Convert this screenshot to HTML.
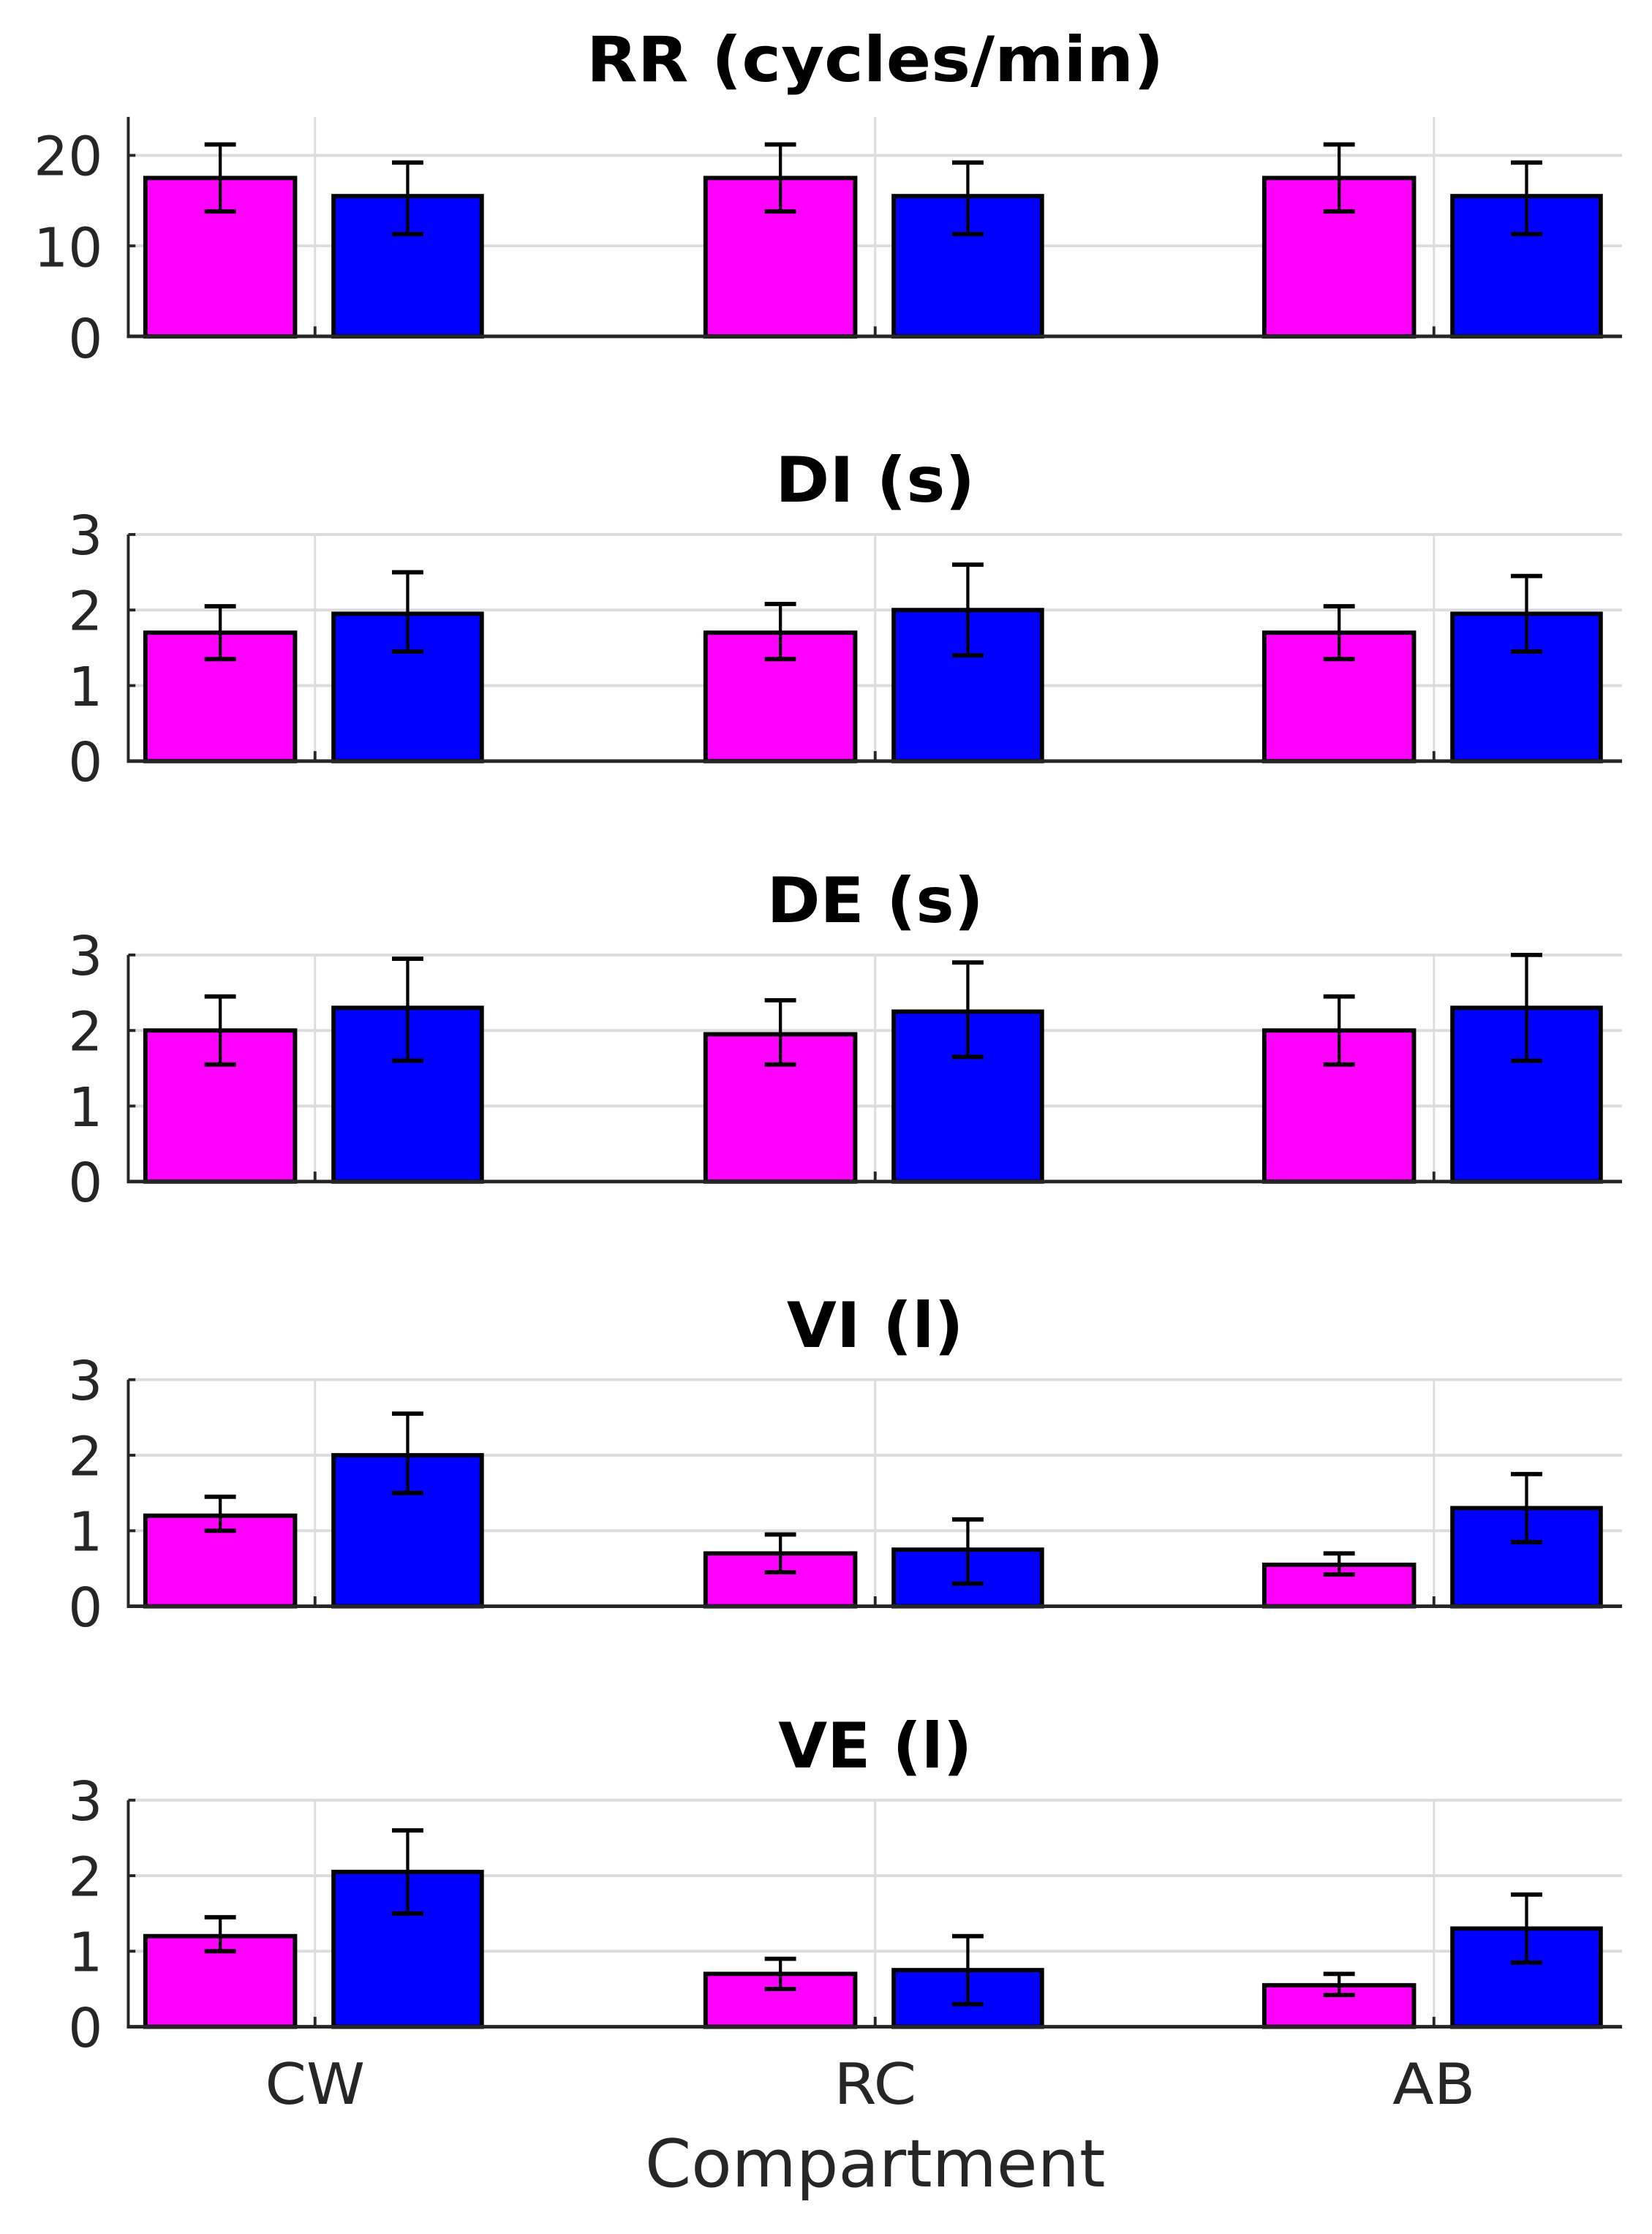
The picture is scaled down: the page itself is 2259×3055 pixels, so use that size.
<!DOCTYPE html>
<html><head><meta charset="utf-8"><style>
html,body{margin:0;padding:0;background:#fff;}
svg{display:block;}
text{font-family:"DejaVu Sans","Liberation Sans",sans-serif;fill:#262626;}
.t{font-weight:bold;font-size:44px;fill:#000;}
.y{font-size:38px;text-anchor:end;}
.x{font-size:40px;text-anchor:middle;}
</style></head><body>
<svg id="s" width="2259" height="3055" viewBox="0 0 1159 1567.4" xmlns="http://www.w3.org/2000/svg">
<rect width="1159" height="1568" fill="#fff"/>
<g id="g"></g>
<text class="t" x="614" y="57" text-anchor="middle" textLength="405" lengthAdjust="spacingAndGlyphs">RR (cycles/min)</text>
<text class="t" x="614" y="352" text-anchor="middle" textLength="140" lengthAdjust="spacingAndGlyphs">DI (s)</text>
<text class="t" x="614" y="647" text-anchor="middle" textLength="152" lengthAdjust="spacingAndGlyphs">DE (s)</text>
<text class="t" x="614" y="945" text-anchor="middle" textLength="124" lengthAdjust="spacingAndGlyphs">VI (l)</text>
<text class="t" x="614" y="1240" text-anchor="middle" textLength="136" lengthAdjust="spacingAndGlyphs">VE (l)</text>
<text class="y" x="72" y="123">20</text><text class="y" x="72" y="187">10</text><text class="y" x="72" y="251">0</text>
<text class="y" x="72" y="389">3</text><text class="y" x="72" y="442">2</text><text class="y" x="72" y="495">1</text><text class="y" x="72" y="548">0</text>
<text class="y" x="72" y="684">3</text><text class="y" x="72" y="737">2</text><text class="y" x="72" y="790">1</text><text class="y" x="72" y="843">0</text>
<text class="y" x="72" y="982">3</text><text class="y" x="72" y="1035">2</text><text class="y" x="72" y="1088">1</text><text class="y" x="72" y="1141">0</text>
<text class="y" x="72" y="1277">3</text><text class="y" x="72" y="1330">2</text><text class="y" x="72" y="1383">1</text><text class="y" x="72" y="1436">0</text>
<text class="x" x="221" y="1476" textLength="70" lengthAdjust="spacingAndGlyphs">CW</text><text class="x" x="614" y="1476" textLength="58" lengthAdjust="spacingAndGlyphs">RC</text><text class="x" x="1006" y="1476" textLength="58" lengthAdjust="spacingAndGlyphs">AB</text>
<text class="x" x="614" y="1534" style="font-size:46px" textLength="323" lengthAdjust="spacingAndGlyphs">Compartment</text>
</svg>
<script>
var P=[
 {top:82,bot:236,u:6.35,ticks:[10,20],d:[[17.5,21.2,13.8,15.5,19.2,11.3],[17.5,21.2,13.8,15.5,19.2,11.3],[17.5,21.2,13.8,15.5,19.2,11.3]]},
 {top:375,bot:534,u:53,ticks:[1,2,3],d:[[1.7,2.05,1.35,1.95,2.5,1.45],[1.7,2.08,1.35,2.0,2.6,1.4],[1.7,2.05,1.35,1.95,2.45,1.45]]},
 {top:670,bot:829,u:53,ticks:[1,2,3],d:[[2.0,2.45,1.55,2.3,2.95,1.6],[1.95,2.4,1.55,2.25,2.9,1.65],[2.0,2.45,1.55,2.3,3.0,1.6]]},
 {top:968,bot:1127,u:53,ticks:[1,2,3],d:[[1.2,1.45,1.0,2.0,2.55,1.5],[0.7,0.95,0.45,0.75,1.15,0.3],[0.55,0.7,0.42,1.3,1.75,0.85]]},
 {top:1263,bot:1422,u:53,ticks:[1,2,3],d:[[1.2,1.45,1.0,2.05,2.6,1.5],[0.7,0.9,0.5,0.75,1.2,0.3],[0.55,0.7,0.42,1.3,1.75,0.85]]}
];
var C=[221,614,1006],h='';
P.forEach(function(p){
 var Y=function(v){return p.bot-v*p.u;};
 p.ticks.forEach(function(t){h+='<line x1="90" x2="1138" y1="'+Y(t)+'" y2="'+Y(t)+'" stroke="#dcdcdc" stroke-width="2"/>';
  h+='<line x1="90" x2="95" y1="'+Y(t)+'" y2="'+Y(t)+'" stroke="#262626" stroke-width="2"/>';});
 C.forEach(function(c){h+='<line x1="'+c+'" x2="'+c+'" y1="'+p.top+'" y2="'+p.bot+'" stroke="#dcdcdc" stroke-width="1.5"/>';});
 p.d.forEach(function(d,i){var c=C[i];
  [[c-119,105,'#ff00ff',d[0],d[1],d[2]],[c+13,104,'#0000ff',d[3],d[4],d[5]]].forEach(function(b){
   var y=Y(b[3]);h+='<rect x="'+b[0]+'" y="'+y+'" width="'+b[1]+'" height="'+(p.bot-y)+'" fill="'+b[2]+'" stroke="#000" stroke-width="3"/>';
   var cx=b[0]+b[1]/2,t=Y(b[4]),l=Y(b[5]);
   h+='<line x1="'+cx+'" x2="'+cx+'" y1="'+t+'" y2="'+l+'" stroke="#000" stroke-width="2.2"/>';
   h+='<line x1="'+(cx-11)+'" x2="'+(cx+11)+'" y1="'+t+'" y2="'+t+'" stroke="#000" stroke-width="3"/>';
   h+='<line x1="'+(cx-11)+'" x2="'+(cx+11)+'" y1="'+l+'" y2="'+l+'" stroke="#000" stroke-width="3"/>';
  });
  h+='<line x1="'+c+'" x2="'+c+'" y1="'+(p.bot-7)+'" y2="'+p.bot+'" stroke="#262626" stroke-width="2"/>';
 });
 h+='<line x1="90" x2="90" y1="'+p.top+'" y2="'+(p.bot+1)+'" stroke="#262626" stroke-width="2"/>';
 h+='<line x1="89" x2="1138" y1="'+p.bot+'" y2="'+p.bot+'" stroke="#262626" stroke-width="2.5"/>';
});
document.getElementById('g').innerHTML=h;
</script>
</body></html>
